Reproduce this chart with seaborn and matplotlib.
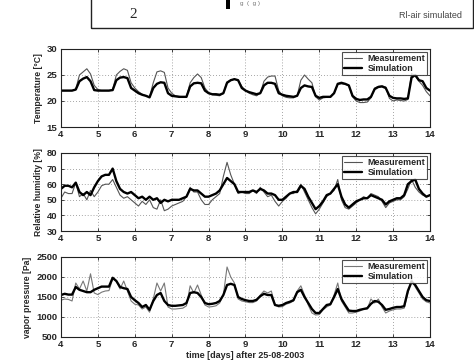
import numpy as np
import pandas as pd
import matplotlib
matplotlib.use('Agg')
import matplotlib.pyplot as plt
from matplotlib.patches import Rectangle
import seaborn as sns

# time axis: days after 25-08-2003, one reading every 0.1 day
days = np.round(np.arange(4.0, 14.01, 0.1), 1)

temp_meas = [22, 22, 22, 22, 22.3, 25.0, 25.6, 26.2, 25.2, 23.0,
             22.2, 22, 22, 22, 22.2, 25.0, 25.7, 26.2, 25.9, 23.5,
             22.5, 21.8, 21.3, 21.0, 20.8, 23.5, 25.6, 25.8, 25.5, 22.5,
             21.5, 21.0, 20.9, 20.8, 20.8, 23.5, 24.5, 25.2, 24.5, 22.5,
             21.6, 21.2, 21.1, 21.0, 21.5, 23.7, 24.0, 24.2, 24.0, 22.8,
             22.0, 21.5, 21.2, 21.0, 21.5, 23.8, 24.6, 24.8, 24.8, 22.0,
             21.0, 20.7, 20.6, 20.6, 21.0, 24.0, 25.0, 24.2, 23.5, 20.8,
             20.2, 20.6, 20.7, 20.7, 21.5, 23.2, 23.3, 23.2, 23.0, 20.8,
             20.0, 19.7, 19.7, 19.8, 20.6, 22.5, 22.8, 22.9, 22.7, 20.5,
             20.0, 20.2, 20.1, 20.0, 20.3, 25.3, 24.8, 23.8, 23.0, 21.8,
             21.0]
temp_sim = [22, 22, 22, 22, 22.2, 23.8, 24.3, 24.6, 23.8, 22.1,
            22, 22, 22, 22, 22.1, 24.0, 24.5, 24.6, 24.4, 22.5,
            22.0, 21.5, 21.2, 21.0, 20.7, 22.5, 23.3, 23.6, 23.5, 21.5,
            21.0, 20.9, 20.8, 20.8, 20.8, 22.8, 23.4, 23.5, 23.4, 22.0,
            21.5, 21.3, 21.3, 21.2, 21.5, 23.5, 24.0, 24.2, 24.0, 22.5,
            22.0, 21.7, 21.5, 21.3, 21.5, 23.0, 23.5, 23.5, 23.3, 21.5,
            21.2, 21.0, 20.9, 20.8, 21.0, 22.5, 23.0, 22.8, 22.7, 21.0,
            20.6, 20.8, 20.8, 20.8, 21.5, 23.3, 23.5, 23.3, 23.0, 21.0,
            20.4, 20.2, 20.3, 20.3, 20.8, 22.3, 22.7, 22.8, 22.5, 21.0,
            20.6, 20.5, 20.5, 20.4, 20.5, 24.5, 25.0, 24.0, 23.8, 22.5,
            22.0]

rh_meas = [51, 55, 54, 54, 61, 52, 54, 50, 56, 52,
           55, 59, 60, 60, 63, 58, 53, 51, 52, 50,
           48, 46, 49, 47, 50, 45, 44, 50, 43, 44,
           46, 47, 48, 49, 52, 58, 55, 55, 50, 47,
           47, 50, 52, 54, 65, 74, 66, 60, 54, 55,
           54, 54, 56, 54, 58, 55, 52, 53, 49, 46,
           49, 51, 54, 54, 56, 60, 55, 50, 45, 41,
           44, 48, 52, 54, 56, 63, 50, 45, 44, 46,
           48, 50, 52, 51, 54, 53, 52, 49, 45, 48,
           49, 50, 50, 52, 57, 63, 58, 55, 53, 52,
           53]
rh_sim = [57, 59, 59, 58, 61, 55, 53, 55, 53, 58,
          62, 65, 66, 66, 70, 62, 57, 55, 54, 55,
          53, 51, 52, 50, 52, 50, 51, 48, 50, 49,
          50, 50, 50, 51, 52, 57, 56, 56, 54, 52,
          52, 53, 54, 56, 60, 64, 62, 60, 55, 55,
          55, 55, 56, 55, 57, 56, 54, 54, 53, 50,
          50, 52, 54, 55, 55, 59, 57, 52, 48, 44,
          46, 49, 53, 54, 57, 60, 52, 47, 45, 47,
          49, 50, 51, 51, 53, 52, 51, 50, 47, 49,
          50, 51, 51, 53, 60, 62, 63, 57, 54, 52,
          53]

vp_meas = [1420, 1450, 1440, 1400, 1850, 1700, 1900, 1650, 2080, 1600,
           1560, 1620, 1650, 1660, 1950, 1900, 1700, 1900, 1650, 1400,
           1320, 1300, 1200, 1250, 1120, 1450, 1850, 1650, 1850, 1250,
           1200, 1200, 1210, 1220, 1280, 1780, 1600, 1800, 1550, 1300,
           1250, 1260, 1280, 1350, 1550, 2250, 2000, 1850, 1450, 1400,
           1380, 1360, 1360, 1400, 1550, 1650, 1600, 1650, 1300, 1250,
           1260, 1320, 1350, 1400, 1650, 1780, 1550, 1300, 1100, 1050,
           1060, 1180, 1250, 1300, 1550, 1850, 1400, 1250, 1100, 1100,
           1120, 1150, 1200, 1200, 1450, 1350, 1450, 1250, 1100, 1150,
           1180, 1200, 1200, 1220, 1600, 1950, 1750, 1600, 1450, 1380,
           1350]
vp_sim = [1550, 1580, 1560, 1560, 1750, 1680, 1650, 1620, 1620, 1680,
          1720, 1760, 1760, 1760, 1980, 1900, 1750, 1720, 1700, 1500,
          1420, 1350, 1250, 1300, 1180, 1400, 1550, 1600, 1400, 1300,
          1280, 1280, 1290, 1300, 1350, 1600, 1620, 1600, 1500, 1350,
          1320, 1330, 1350, 1400, 1550, 1800, 1830, 1800, 1500, 1450,
          1420, 1400, 1400, 1430, 1520, 1580, 1550, 1550, 1300, 1280,
          1300, 1350, 1380, 1420, 1620, 1680, 1500, 1350, 1200, 1100,
          1100, 1200, 1300, 1320, 1500, 1700, 1450, 1300, 1160, 1150,
          1150, 1180, 1200, 1220, 1330, 1400, 1380, 1300, 1180, 1200,
          1230, 1250, 1250, 1270, 1650, 1880, 1800, 1650, 1500, 1420,
          1400]

x_ticks = list(range(4, 15))

panels = [
    ('Temperature [°C]', temp_meas, temp_sim, (15, 30), [15, 20, 25, 30], '#555555'),
    ('Relative humidity [%]', rh_meas, rh_sim, (30, 80), [30, 40, 50, 60, 70, 80], '#555555'),
    ('vapor pressure [Pa]', vp_meas, vp_sim, (500, 2500), [500, 1000, 1500, 2000, 2500], '#777777'),
]

sns.set_style('white')
plt.rcParams['font.family'] = ['Liberation Sans', 'DejaVu Sans']

fig = plt.figure(figsize=(4.74, 3.6), dpi=100)

# leftover of the previous figure at the top of the page
fig.add_artist(Rectangle((91 / 474, 1 - 28 / 360), 382 / 474, 0.2, transform=fig.transFigure,
                         facecolor='none', edgecolor='#222222', lw=1.0, clip_on=False))
fig.add_artist(Rectangle((226 / 474, 1 - 9 / 360), 4 / 474, 0.1, transform=fig.transFigure,
                         facecolor='black', edgecolor='none', clip_on=False))
fig.text(240 / 474, 1 - 0.5 / 360, 'g  (  g )', fontsize=4.5, color='#777777', va='top', ha='left')
fig.text(133 / 474, 1 - 15 / 360, '2', fontsize=11, family='Liberation Serif', ha='center', va='center')
fig.text(462 / 474, 1 - 15 / 360, 'Rl-air simulated', fontsize=6.5, color='#444444', ha='right', va='center')

boxes = [(49, 127), (153, 231), (257, 337)]
left, right = 61 / 474, 430 / 474

for (label, meas, sim, ylim, yticks, mcol), (top, bot) in zip(panels, boxes):
    ax = fig.add_axes([left, 1 - bot / 360, right - left, (bot - top) / 360])
    df = pd.DataFrame({'day': days, 'Measurement': meas, 'Simulation': sim})
    sns.lineplot(data=df, x='day', y='Measurement', ax=ax, color=mcol, lw=0.8, label='Measurement')
    sns.lineplot(data=df, x='day', y='Simulation', ax=ax, color='black', lw=1.7, label='Simulation')
    ax.set_xlim(4, 14)
    ax.set_ylim(*ylim)
    ax.set_xticks(x_ticks)
    ax.set_yticks(yticks)
    ax.grid(True, ls=(0, (1, 2.5)), color='#888888', lw=0.6)
    ax.tick_params(direction='in', length=2.5, width=0.6, labelsize=6.8, pad=2.5,
                   top=True, right=True, bottom=True, left=True)
    for t in ax.get_xticklabels() + ax.get_yticklabels():
        t.set_fontweight('bold')
    for s in ax.spines.values():
        s.set_color('#222222')
        s.set_linewidth(0.8)
    ax.set_ylabel(label, fontsize=6.2, fontweight='bold', labelpad=3)
    ax.set_xlabel('')
    leg = ax.legend(loc='upper right', fontsize=6.4, frameon=True, fancybox=False,
                    borderpad=0.25, labelspacing=0.1, handlelength=2.0, handletextpad=0.6,
                    borderaxespad=0.3)
    leg.get_frame().set_edgecolor('#222222')
    leg.get_frame().set_linewidth(0.8)
    for t in leg.get_texts():
        t.set_fontweight('bold')

ax.set_xlabel('time [days] after 25-08-2003', fontsize=6.5, fontweight='bold', labelpad=1)

fig.savefig('out.png', dpi=100)
